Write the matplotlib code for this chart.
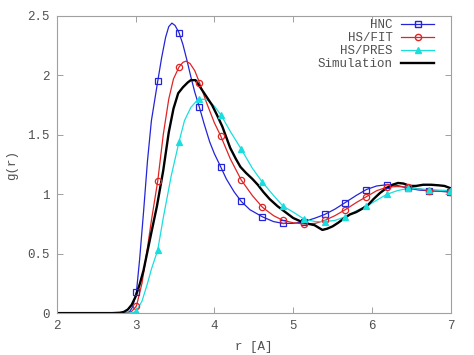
import matplotlib
matplotlib.use("Agg")
import matplotlib.pyplot as plt
from matplotlib.lines import Line2D

# ---- data ----
x_ticks = [2, 3, 4, 5, 6, 7]
x_ticklabels = ["2", "3", "4", "5", "6", "7"]
y_ticks = [0, 0.5, 1, 1.5, 2, 2.5]
y_ticklabels = ["0", "0.5", "1", "1.5", "2", "2.5"]

marker_r = [3.01, 3.28, 3.55, 3.81, 4.08, 4.34, 4.61, 4.87, 5.14, 5.40, 5.66, 5.93, 6.19, 6.46, 6.72, 6.99]

hnc_r = [2.0, 2.85, 2.92, 2.96, 3.01, 3.05, 3.1, 3.15, 3.2, 3.28, 3.33, 3.38, 3.42, 3.46, 3.5, 3.55,
         3.6, 3.65, 3.7, 3.75, 3.81, 3.87, 3.94, 4.0, 4.08, 4.15, 4.25, 4.34, 4.45, 4.61, 4.75,
         4.87, 5.0, 5.14, 5.28, 5.40, 5.53, 5.66, 5.8, 5.93, 6.06, 6.19, 6.32, 6.46, 6.6, 6.72, 6.85, 7.0]
hnc_g = [0.0, 0.0, 0.01, 0.05, 0.18, 0.45, 0.85, 1.28, 1.62, 1.95, 2.15, 2.32, 2.41, 2.44, 2.42, 2.36,
         2.26, 2.13, 1.99, 1.86, 1.73, 1.59, 1.44, 1.34, 1.23, 1.13, 1.02, 0.94, 0.87, 0.81, 0.77,
         0.755, 0.755, 0.77, 0.80, 0.83, 0.875, 0.93, 0.99, 1.04, 1.07, 1.08, 1.075, 1.05, 1.035, 1.03, 1.025, 1.02]
hnc_m = [0.18, 1.95, 2.36, 1.73, 1.23, 0.94, 0.81, 0.755, 0.77, 0.83, 0.93, 1.04, 1.08, 1.05, 1.03, 1.02]

fit_r = [2.0, 2.88, 2.95, 3.01, 3.08, 3.15, 3.2, 3.28, 3.35, 3.42, 3.48, 3.55, 3.6, 3.64, 3.69, 3.75,
         3.81, 3.9, 4.0, 4.08, 4.2, 4.34, 4.48, 4.61, 4.75, 4.87, 5.0, 5.14, 5.28, 5.40, 5.53, 5.66,
         5.8, 5.93, 6.06, 6.19, 6.32, 6.46, 6.6, 6.72, 6.85, 7.0]
fit_g = [0.0, 0.0, 0.015, 0.06, 0.25, 0.55, 0.78, 1.11, 1.50, 1.80, 1.97, 2.07, 2.11, 2.12, 2.10, 2.04,
         1.94, 1.77, 1.60, 1.49, 1.30, 1.12, 0.99, 0.89, 0.82, 0.78, 0.76, 0.75, 0.755, 0.78, 0.82, 0.87,
         0.93, 0.98, 1.03, 1.06, 1.065, 1.06, 1.045, 1.03, 1.025, 1.02]
fit_m = [0.06, 1.11, 2.07, 1.94, 1.49, 1.12, 0.89, 0.78, 0.75, 0.78, 0.87, 0.98, 1.06, 1.06, 1.03, 1.02]

pres_r = [2.0, 2.92, 2.97, 3.01, 3.08, 3.15, 3.2, 3.28, 3.35, 3.45, 3.55, 3.62, 3.7, 3.78, 3.85,
          3.92, 4.0, 4.08, 4.2, 4.34, 4.48, 4.61, 4.75, 4.87, 5.0, 5.14, 5.28, 5.40, 5.53, 5.66,
          5.8, 5.93, 6.06, 6.19, 6.32, 6.46, 6.6, 6.72, 6.85, 7.0]
pres_g = [0.0, 0.0, 0.005, 0.02, 0.10, 0.25, 0.37, 0.53, 0.80, 1.15, 1.44, 1.62, 1.73, 1.79, 1.80,
          1.79, 1.74, 1.67, 1.53, 1.38, 1.22, 1.10, 0.99, 0.90, 0.85, 0.79, 0.77, 0.77, 0.78, 0.81,
          0.86, 0.90, 0.95, 1.00, 1.03, 1.05, 1.045, 1.04, 1.035, 1.03]
pres_m = [0.02, 0.53, 1.44, 1.80, 1.67, 1.38, 1.10, 0.90, 0.79, 0.77, 0.81, 0.90, 1.00, 1.05, 1.04, 1.03]

sim_r = [2.0, 2.7, 2.8, 2.85, 2.9, 2.95, 3.0, 3.05, 3.1, 3.15, 3.2, 3.27, 3.35, 3.42, 3.48, 3.54,
         3.6, 3.66, 3.7, 3.76, 3.8, 3.86, 3.92, 3.97, 4.03, 4.1, 4.15, 4.2, 4.27, 4.33, 4.4, 4.48,
         4.55, 4.62, 4.7, 4.8, 4.9, 5.0, 5.1, 5.2, 5.27, 5.32, 5.37, 5.43, 5.5, 5.57, 5.65, 5.72,
         5.8, 5.88, 5.95, 6.02, 6.1, 6.18, 6.26, 6.33, 6.4, 6.48, 6.56, 6.65, 6.75, 6.85, 6.92, 7.0]
sim_g = [0.0, 0.0, 0.003, 0.01, 0.03, 0.07, 0.14, 0.24, 0.36, 0.52, 0.68, 0.90, 1.20, 1.52, 1.72, 1.85,
         1.90, 1.94, 1.96, 1.96, 1.92, 1.86, 1.80, 1.75, 1.67, 1.57, 1.48, 1.39, 1.30, 1.23, 1.18, 1.13,
         1.08, 1.02, 0.96, 0.90, 0.85, 0.80, 0.77, 0.75, 0.74, 0.72, 0.70, 0.71, 0.73, 0.76, 0.80, 0.83,
         0.85, 0.88, 0.91, 0.96, 1.01, 1.05, 1.08, 1.095, 1.09, 1.07, 1.07, 1.08, 1.08, 1.075, 1.07, 1.05]

series_names = ["HNC", "HS/FIT", "HS/PRES", "Simulation"]

# ---- style ----
mono = ["Liberation Mono", "DejaVu Sans Mono"]
plt.rcParams["font.family"] = mono
c_blue, c_red, c_cyan = "#2424d8", "#e02424", "#19dede"
txt_col = "#505050"
frame_col = "#a0a0a0"

fig = plt.figure(figsize=(4.74, 3.55), dpi=100)
ax = fig.add_axes([0.120, 0.118, 0.831, 0.837])

ax.plot(hnc_r, hnc_g, color=c_blue, lw=0.9)
ax.plot(fit_r, fit_g, color=c_red, lw=0.9)
ax.plot(pres_r, pres_g, color=c_cyan, lw=0.9)
ax.plot(sim_r, sim_g, color="black", lw=1.7)
ax.plot(marker_r, hnc_m, ls="none", marker="s", ms=4.5, mfc="none", mec=c_blue, mew=0.9)
ax.plot(marker_r, fit_m, ls="none", marker="o", ms=4.5, mfc="none", mec=c_red, mew=0.9)
ax.plot(marker_r, pres_m, ls="none", marker="^", ms=4.0, mfc=c_cyan, mec=c_cyan, mew=0.9)

handles = [
    Line2D([], [], color=c_blue, lw=0.9, marker="s", ms=4.5, mfc="none", mec=c_blue),
    Line2D([], [], color=c_red, lw=0.9, marker="o", ms=4.5, mfc="none", mec=c_red),
    Line2D([], [], color=c_cyan, lw=0.9, marker="^", ms=4.0, mfc=c_cyan, mec=c_cyan),
    Line2D([], [], color="black", lw=1.7),
]
leg = ax.legend(handles, series_names, loc="upper right", bbox_to_anchor=(0.957, 0.99),
                frameon=False, markerfirst=False, handlelength=2.6, handletextpad=0.7,
                labelspacing=0.08, borderaxespad=0.0, borderpad=0.0,
                prop={"family": mono, "size": 9})
for t in leg.get_texts():
    t.set_color(txt_col)

ax.set_xlim(2, 7)
ax.set_ylim(0, 2.5)
ax.set_xticks(x_ticks)
ax.set_xticklabels(x_ticklabels)
ax.set_yticks(y_ticks)
ax.set_yticklabels(y_ticklabels)
ax.tick_params(direction="in", top=True, right=True, length=4, width=0.7,
               color=frame_col, labelcolor=txt_col, labelsize=9, pad=5)
for s in ax.spines.values():
    s.set_color(frame_col)
    s.set_linewidth(0.8)
ax.set_xlabel("r [A]", color=txt_col, fontsize=9, va="center")
ax.set_ylabel("g(r)", color=txt_col, fontsize=9, va="center")
ax.xaxis.set_label_coords(0.5, -0.114)
ax.yaxis.set_label_coords(-0.114, 0.5)

fig.savefig("out.png", dpi=100)
